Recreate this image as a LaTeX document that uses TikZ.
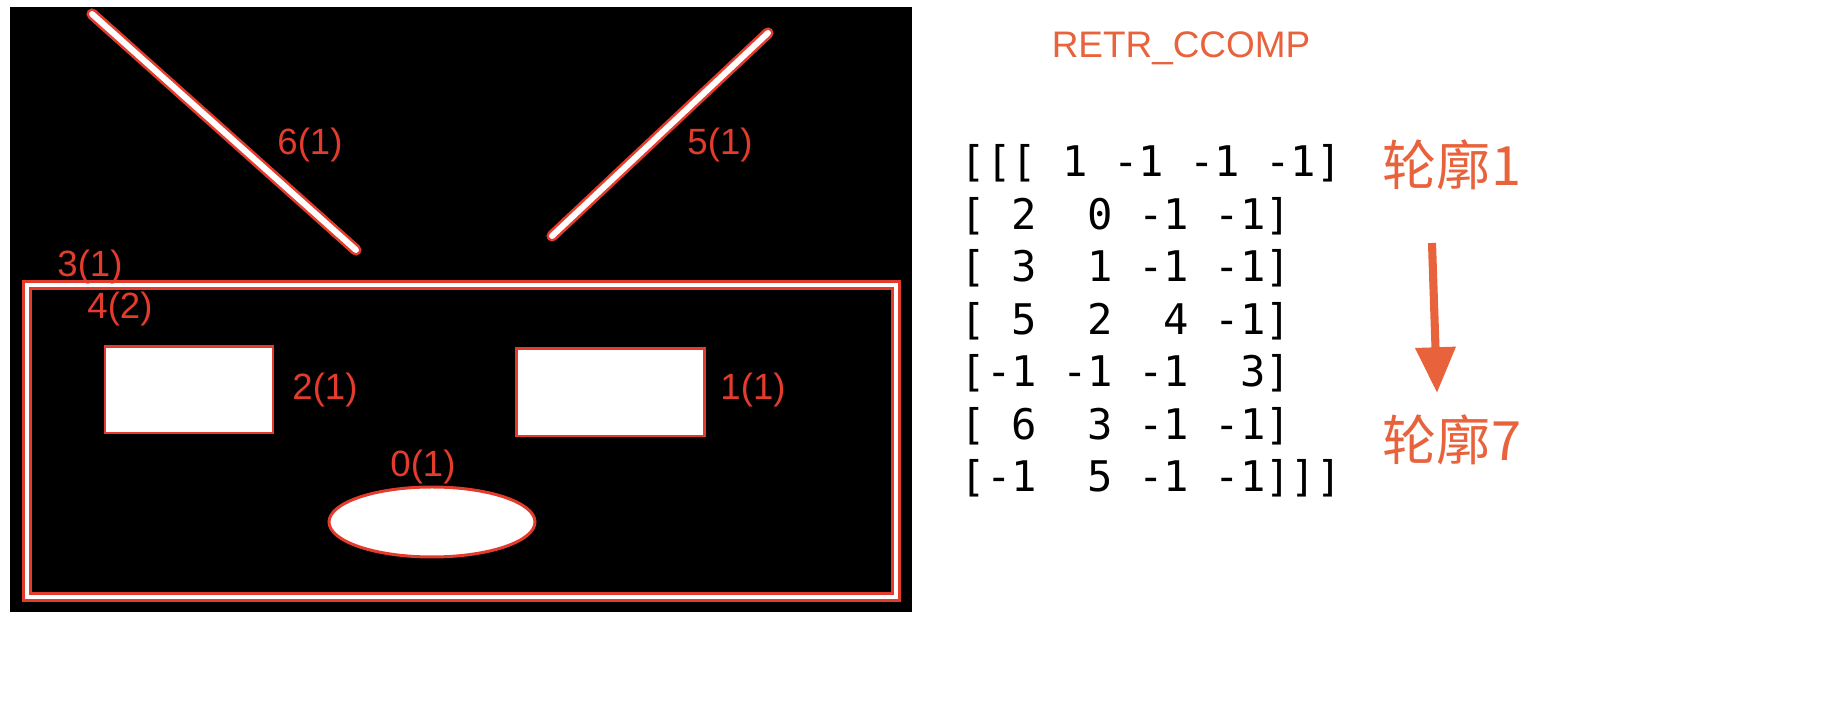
\documentclass[tikz,border=0pt]{standalone}
\usepackage{fontspec}
\setmainfont{Liberation Sans}
\setmonofont{DejaVu Sans Mono}
\newfontfamily\cjk{Noto Sans CJK SC}
\usetikzlibrary{arrows.meta}
\definecolor{cred}{HTML}{E33B2C}
\definecolor{corg}{HTML}{E8623C}
\tikzset{
  lbl/.style={text=cred,font=\fontsize{10.4}{12}\selectfont,inner sep=0pt},
  mrow/.style={font=\ttfamily\fontsize{12}{14}\selectfont,anchor=west,inner sep=0pt},
  cjklbl/.style={text=corg,font=\cjk\fontsize{15.4}{18}\selectfont,inner sep=0pt},
  shapebox/.style={draw=cred,fill=white,line width=0.85pt},
}
\begin{document}
\begin{tikzpicture}[x=0.01cm,y=-0.01cm]
\useasboundingbox (0,0) rectangle (1830,728);
\fill[white] (0,0) rectangle (1830,728);
\fill[black] (10,7) rectangle (912,612);
% sticks
\coordinate (a6) at (92,14); \coordinate (b6) at (356,250);
\coordinate (a5) at (768,33); \coordinate (b5) at (552,236);
\draw[cred,line width=3.2pt,line cap=round] (a6) -- (b6);
\draw[white,line width=1.7pt,line cap=round] (a6) -- (b6);
\draw[cred,line width=3.2pt,line cap=round] (a5) -- (b5);
\draw[white,line width=1.7pt,line cap=round] (a5) -- (b5);
% outer frame
\draw[cred,line width=3pt] (27,285) rectangle (896,597);
\draw[white,line width=1.1pt] (27,285) rectangle (896,597);
% shapes
\draw[shapebox] (105,347) rectangle (273,433);
\draw[shapebox] (516,349) rectangle (704,436);
\draw[shapebox] (432,522) ellipse [x radius=103,y radius=35];
% labels
\node[lbl] (l6) at (310,145) {6(1)};
\node[lbl] (l5) at (720,145) {5(1)};
\node[lbl] (l3) at (90,267) {3(1)};
\node[lbl] (l4) at (120,309) {4(2)};
\node[lbl] (l2) at (325,390) {2(1)};
\node[lbl] (l1) at (753,390) {1(1)};
\node[lbl] (l0) at (423,467) {0(1)};
% right side
\node[text=corg,font=\fontsize{10.5}{12}\selectfont,inner sep=0pt] (title) at (1181,48) {RETR\_CCOMP};
\node[mrow] (r1) at (960,163) {[[[~1~-1~-1~-1]};
\node[mrow] (r2) at (960,216) {[~2~~0~-1~-1]};
\node[mrow] (r3) at (960,268) {[~3~~1~-1~-1]};
\node[mrow] (r4) at (960,321) {[~5~~2~~4~-1]};
\node[mrow] (r5) at (960,373) {[-1~-1~-1~~3]};
\node[mrow] (r6) at (960,426) {[~6~~3~-1~-1]};
\node[mrow] (r7) at (960,478) {[-1~~5~-1~-1]]]};
\node[cjklbl] (c1) at (1452,165) {轮廓1};
\node[cjklbl] (c7) at (1452,440) {轮廓7};
\draw[corg,line width=2.3pt,-{Triangle[width=11pt,length=13pt]}] (1432,243) -- (1437,393);
\end{tikzpicture}
\end{document}
